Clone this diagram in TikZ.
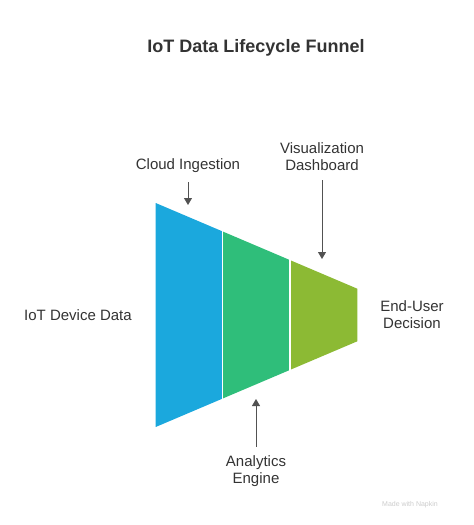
\documentclass[tikz,border=0pt]{standalone}
\usepackage{fontspec}
\setmainfont{Liberation Sans}
\usetikzlibrary{arrows.meta}

\definecolor{stageblue}{RGB}{27,168,221}
\definecolor{stagegreen}{RGB}{47,190,122}
\definecolor{stageolive}{RGB}{140,186,52}
\definecolor{labelgray}{RGB}{51,51,51}

\begin{document}
\begin{tikzpicture}[x=1pt,y=-1pt,
		lbl/.style={text=labelgray, font=\fontsize{15}{17}\selectfont, align=center, inner sep=2pt},
		arr/.style={draw=labelgray!85, line width=0.9pt, -{Triangle[length=7pt,width=8pt]}}]
			\useasboundingbox (0,0) rectangle (474,525);

			% funnel
			\fill[stageblue] (155.7,203) -- (222.5,231.4) -- (222.5,398.6) -- (155.7,427) -- cycle;
			\fill[stagegreen] (222.5,231.4) -- (290,260.1) -- (290,369.9) -- (222.5,398.6) -- cycle;
			\fill[stageolive] (290,260.1) -- (357.3,288.7) -- (357.3,341.3) -- (290,369.9) -- cycle;
			\draw[white, line width=1.8pt] (222.5,229) -- (222.5,401) (290,258) -- (290,372);

			\coordinate (ingesttip) at (188,205);
			\coordinate (dashtip) at (322,259);
			\coordinate (enginetip) at (256,399);

			\node[font=\fontsize{18}{20}\selectfont\bfseries, text=labelgray] (title) at (256,48) {IoT Data Lifecycle Funnel};

			\begin{scope}[every node/.style={lbl}]
				\node (device) at (78,315) {IoT Device Data};
				\node (ingest) at (188,166) {Cloud Ingestion};
				\node (dash) at (322,157) {Visualization\\Dashboard};
				\node (engine) at (256,471.5) {Analytics\\Engine};
				\node (decision) at (412,314.5) {End-User\\Decision};
			\end{scope}

			\draw[arr, shorten <=7pt] (ingest.south) -- (ingesttip);
			\draw[arr, shorten <=7pt] (dash.south) -- (dashtip);
			\draw[arr, shorten <=7pt] (engine.north) -- (enginetip);

			\node[text=black!20, font=\fontsize{7}{8}\selectfont] (mark) at (410,505) {Made with Napkin};
		\end{tikzpicture}
\end{document}
